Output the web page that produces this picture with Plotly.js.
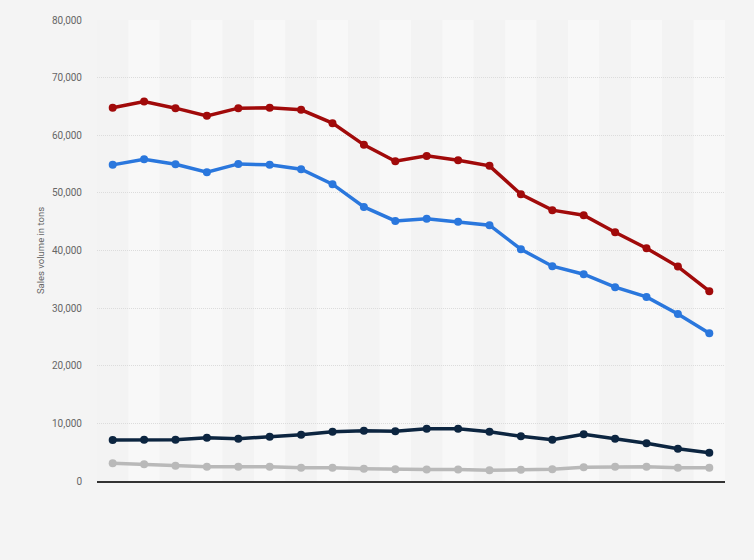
<!DOCTYPE html>
<html>
<head>
<meta charset="utf-8">
<script src="https://cdn.plot.ly/plotly-3.0.1.min.js"></script>
<style>html,body{margin:0;padding:0;background:#f4f4f4;}</style>
</head>
<body>
<div id="chart" style="width:754px;height:560px;"></div>
<script>
// Categories (years; not labelled in the reference)
const categories = ['2000','2001','2002','2003','2004','2005','2006','2007','2008','2009',
                    '2010','2011','2012','2013','2014','2015','2016','2017','2018','2019'];

// Series values (tons)
const seriesRed = [64760, 65850, 64700, 63370, 64700, 64760, 64410, 62100, 58330, 55500,
                   56420, 55670, 54690, 49770, 47000, 46130, 43170, 40400, 37210, 32930];
const seriesBlue = [54860, 55840, 54980, 53590, 55030, 54860, 54110, 51510, 47570, 45140,
                    45490, 44970, 44390, 40220, 37270, 35880, 33630, 31940, 28990, 25640];
const seriesNavy = [7120, 7180, 7180, 7520, 7350, 7700, 8040, 8560, 8730, 8620,
                    9080, 9080, 8560, 7750, 7180, 8100, 7350, 6540, 5610, 4920];
const seriesGray = [3070, 2900, 2660, 2490, 2490, 2490, 2310, 2310, 2140, 2030,
                    1990, 2000, 1850, 1970, 2030, 2370, 2490, 2490, 2310, 2310];

const yTickVals = [0, 10000, 20000, 30000, 40000, 50000, 60000, 70000, 80000];

function line(y, color) {
  return {
    type: 'scatter', mode: 'lines+markers', x: categories, y: y,
    line: {color: color, width: 3.5},
    marker: {color: color, size: 8},
    hoverinfo: 'skip', showlegend: false
  };
}

const traces = [
  line(seriesGray, '#b9b9b9'),
  line(seriesNavy, '#0c2540'),
  line(seriesBlue, '#2a77dd'),
  line(seriesRed, '#a10a0a')
];

// Alternating background stripes per category
const shapes = categories.map((c, i) => ({
  type: 'rect', xref: 'x', yref: 'paper', x0: i - 0.5, x1: i + 0.5, y0: 0, y1: 1,
  fillcolor: i % 2 === 1 ? '#f8f8f8' : '#f3f3f3', line: {width: 0}, layer: 'below'
}));

const layout = {
  width: 754, height: 560,
  paper_bgcolor: '#f4f4f4', plot_bgcolor: '#f3f3f3',
  margin: {l: 97, r: 29, t: 20, b: 79},
  font: {family: 'Roboto, Arial, sans-serif', color: '#666'},
  showlegend: false,
  shapes: shapes,
  xaxis: {
    type: 'category', range: [-0.5, categories.length - 0.5],
    showticklabels: false, ticks: '', showgrid: false, zeroline: false,
    showline: true, linecolor: '#333', linewidth: 1.5, fixedrange: true
  },
  yaxis: {
    range: [0, 80000], tickvals: yTickVals, tickformat: ',d',
    showgrid: true, gridcolor: '#dcdcdc', griddash: '1px,1px', gridwidth: 1,
    zeroline: false, showline: false, ticks: '',
    ticklabelstandoff: 14,
    tickfont: {size: 10, color: '#666'},
    title: {text: 'Sales volume in tons', font: {size: 9.5, color: '#666'}, standoff: 5},
    fixedrange: true
  }
};

Plotly.newPlot('chart', traces, layout, {displayModeBar: false, staticPlot: true});
</script>
</body>
</html>
